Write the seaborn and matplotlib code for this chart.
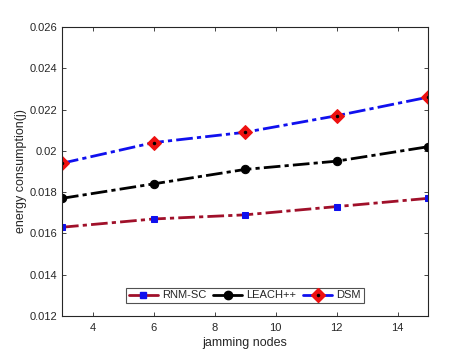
import matplotlib
matplotlib.use("Agg")
import matplotlib.pyplot as plt
import seaborn as sns
import pandas as pd
from matplotlib.legend_handler import HandlerTuple
from matplotlib.lines import Line2D

jamming_nodes = [3, 6, 9, 12, 15]
rnm_sc = [0.0163, 0.0167, 0.0169, 0.0173, 0.0177]
leach = [0.0177, 0.0184, 0.0191, 0.0195, 0.0202]
dsm = [0.0194, 0.0204, 0.0209, 0.0217, 0.0226]
series_names = ["RNM-SC", "LEACH++", "DSM"]
xticks = [4, 6, 8, 10, 12, 14]
yticks = [0.012, 0.014, 0.016, 0.018, 0.02, 0.022, 0.024, 0.026]
ytick_labels = ["0.012", "0.014", "0.016", "0.018", "0.02", "0.022", "0.024", "0.026"]

sns.set_style("white")
plt.rcParams['font.family'] = ['Liberation Sans', 'DejaVu Sans']

fig = plt.figure(figsize=(4.74, 3.55), dpi=100)
ax = fig.add_axes([62/474, 1 - 316/355, 366/474, 289/355])

df = pd.DataFrame({"x": jamming_nodes, "RNM-SC": rnm_sc, "LEACH++": leach, "DSM": dsm})
dash = (6, 1.5, 1.5, 1.5)
LW = 2.0
sns.lineplot(data=df, x="x", y="RNM-SC", ax=ax, color="#a0102a", lw=LW,
             marker="s", markersize=5, markerfacecolor="#1010ee", markeredgecolor="#1010ee")
sns.lineplot(data=df, x="x", y="LEACH++", ax=ax, color="black", lw=LW,
             marker="o", markersize=6, markerfacecolor="black", markeredgecolor="black")
sns.lineplot(data=df, x="x", y="DSM", ax=ax, color="#1010ee", lw=LW,
             marker="D", markersize=7, markerfacecolor="#ee1010", markeredgecolor="#ee1010")
ax.plot(df["x"], df["DSM"], ls="none", marker=".", color="black", markersize=3)
for ln in ax.get_lines()[:3]:
    ln.set_dashes(dash)

ax.set_xlim(3, 15)
ax.set_ylim(0.012, 0.026)
ax.set_xticks(xticks)
ax.set_yticks(yticks)
ax.set_yticklabels(ytick_labels)
ax.tick_params(direction="in", length=3, width=0.6, labelsize=8, colors="#262626",
               top=True, right=True, bottom=True, left=True)
ax.tick_params(axis="x", pad=5)
for s in ax.spines.values():
    s.set_linewidth(0.8)
    s.set_color("#262626")
ax.set_xlabel("jamming nodes", fontsize=9, color="#262626", labelpad=3)
ax.set_ylabel("energy consumption(j)", fontsize=9, color="#262626", labelpad=2)

h1 = Line2D([], [], color="#a0102a", lw=LW, marker="s", markersize=5,
            markerfacecolor="#1010ee", markeredgecolor="#1010ee")
h2 = Line2D([], [], color="black", lw=LW, marker="o", markersize=6)
h3 = Line2D([], [], color="#1010ee", lw=LW, marker="D", markersize=7,
            markerfacecolor="#ee1010", markeredgecolor="#ee1010")
h3b = Line2D([], [], ls="none", marker=".", color="black", markersize=3)
leg = ax.legend([h1, h2, (h3, h3b)], series_names, ncol=3, loc="lower center",
                bbox_to_anchor=(0.5, 0.025), fontsize=8, frameon=True, fancybox=False,
                edgecolor="#262626", handlelength=2.6, handletextpad=0.4,
                columnspacing=0.6, borderpad=0.25,
                handler_map={tuple: HandlerTuple(ndivide=1)})
leg.get_frame().set_linewidth(0.8)

fig.savefig("out.png", dpi=100)
